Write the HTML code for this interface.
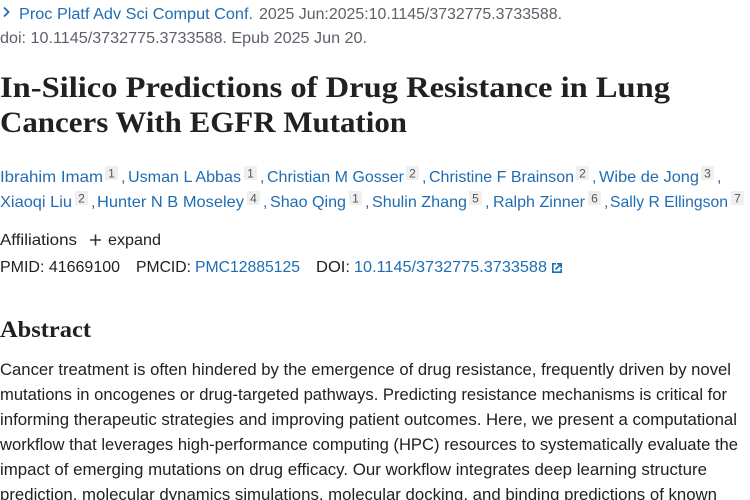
<!DOCTYPE html>
<html><head><meta charset="utf-8">
<style>
html,body{margin:0;padding:0;background:#fff;width:750px;height:500px;overflow:hidden}
svg{display:block}
.s{font-family:"Liberation Sans",sans-serif}
.t{font-family:"Liberation Serif",serif;font-weight:bold;fill:#212121}
.b{fill:#1f6db3}
.g{fill:#5b616b}
.d{fill:#212121}
.sup{font-family:"Liberation Sans",sans-serif;font-size:12px;fill:#555}
</style></head>
<body>
<svg width="750" height="500" viewBox="0 0 750 500" xmlns="http://www.w3.org/2000/svg">
<rect width="750" height="500" fill="#fff"/>
<!-- citation -->
<path d="M4 7.5 L8.5 12 L4 16.5" fill="none" stroke="#1f6db3" stroke-width="1.8"/>
<text class="s b" x="19" y="19" font-size="15.5" textLength="234" lengthAdjust="spacingAndGlyphs">Proc Platf Adv Sci Comput Conf.</text>
<text class="s g" x="259" y="19" font-size="15.5" textLength="303" lengthAdjust="spacingAndGlyphs">2025 Jun:2025:10.1145/3732775.3733588.</text>
<text class="s g" x="0" y="43" font-size="15.5" textLength="367" lengthAdjust="spacingAndGlyphs">doi: 10.1145/3732775.3733588. Epub 2025 Jun 20.</text>
<!-- title -->
<text class="t" x="0" y="97" font-size="30" textLength="670" lengthAdjust="spacingAndGlyphs">In-Silico Predictions of Drug Resistance in Lung</text>
<text class="t" x="0" y="132" font-size="30" textLength="407" lengthAdjust="spacingAndGlyphs">Cancers With EGFR Mutation</text>
<!-- authors line 1 -->
<g class="s" font-size="16">
<text class="b" x="0" y="182" textLength="103" lengthAdjust="spacingAndGlyphs">Ibrahim Imam</text>
<text class="b" x="121" y="182">,</text>
<text class="b" x="128" y="182" textLength="113" lengthAdjust="spacingAndGlyphs">Usman L Abbas</text>
<text class="b" x="260" y="182">,</text>
<text class="b" x="267" y="182" textLength="137" lengthAdjust="spacingAndGlyphs">Christian M Gosser</text>
<text class="b" x="422" y="182">,</text>
<text class="b" x="429" y="182" textLength="145" lengthAdjust="spacingAndGlyphs">Christine F Brainson</text>
<text class="b" x="592" y="182">,</text>
<text class="b" x="599" y="182" textLength="100" lengthAdjust="spacingAndGlyphs">Wibe de Jong</text>
<text class="b" x="717" y="182">,</text>
<!-- authors line 2 -->
<text class="b" x="0" y="207" textLength="72" lengthAdjust="spacingAndGlyphs">Xiaoqi Liu</text>
<text class="b" x="91" y="207">,</text>
<text class="b" x="97" y="207" textLength="147" lengthAdjust="spacingAndGlyphs">Hunter N B Moseley</text>
<text class="b" x="263" y="207">,</text>
<text class="b" x="270" y="207" textLength="76" lengthAdjust="spacingAndGlyphs">Shao Qing</text>
<text class="b" x="365" y="207">,</text>
<text class="b" x="372" y="207" textLength="95" lengthAdjust="spacingAndGlyphs">Shulin Zhang</text>
<text class="b" x="485" y="207">,</text>
<text class="b" x="493" y="207" textLength="92" lengthAdjust="spacingAndGlyphs">Ralph Zinner</text>
<text class="b" x="604" y="207">,</text>
<text class="b" x="610" y="207" textLength="118" lengthAdjust="spacingAndGlyphs">Sally R Ellingson</text>
</g>
<!-- superscript boxes -->
<g fill="#efefef">
<rect x="105" y="166" width="13" height="14" rx="1"/>
<rect x="244" y="166" width="13" height="14" rx="1"/>
<rect x="406" y="166" width="13" height="14" rx="1"/>
<rect x="576" y="166" width="13" height="14" rx="1"/>
<rect x="701" y="166" width="13" height="14" rx="1"/>
<rect x="75" y="191" width="13" height="14" rx="1"/>
<rect x="247" y="191" width="13" height="14" rx="1"/>
<rect x="349" y="191" width="13" height="14" rx="1"/>
<rect x="469" y="191" width="13" height="14" rx="1"/>
<rect x="588" y="191" width="13" height="14" rx="1"/>
<rect x="731" y="191" width="13" height="14" rx="1"/>
</g>
<g class="sup" text-anchor="middle">
<text x="111.5" y="177.5">1</text>
<text x="250.5" y="177.5">1</text>
<text x="412.5" y="177.5">2</text>
<text x="582.5" y="177.5">2</text>
<text x="707.5" y="177.5">3</text>
<text x="81.5" y="202.5">2</text>
<text x="253.5" y="202.5">4</text>
<text x="355.5" y="202.5">1</text>
<text x="475.5" y="202.5">5</text>
<text x="594.5" y="202.5">6</text>
<text x="737.5" y="202.5">7</text>
</g>
<!-- affiliations -->
<g class="s" font-size="16">
<text class="d" x="0" y="245" textLength="77" lengthAdjust="spacingAndGlyphs">Affiliations</text>
<path d="M90 240 H101 M95.5 234.5 V245.5" stroke="#333" stroke-width="1.6"/>
<text class="d" x="108" y="245" textLength="53" lengthAdjust="spacingAndGlyphs">expand</text>
<!-- ids -->
<text class="d" x="0" y="272" textLength="120" lengthAdjust="spacingAndGlyphs">PMID: 41669100</text>
<text class="d" x="136" y="272" textLength="55" lengthAdjust="spacingAndGlyphs">PMCID:</text>
<text class="b" x="195" y="272" textLength="105" lengthAdjust="spacingAndGlyphs">PMC12885125</text>
<text class="d" x="316" y="272" textLength="34" lengthAdjust="spacingAndGlyphs">DOI:</text>
<text class="b" x="354" y="272" textLength="193" lengthAdjust="spacingAndGlyphs">10.1145/3732775.3733588</text>
</g>
<g fill="none" stroke="#1f6db3" stroke-width="1.6">
<path d="M556 263.8 H552.8 V272.2 H561.2 V269"/>
<path d="M557 263.8 H561.2 V268 M561.2 263.8 L555.5 269.5"/>
</g>
<!-- abstract -->
<text class="t" x="0" y="337" font-size="23" textLength="91" lengthAdjust="spacingAndGlyphs">Abstract</text>
<g class="s d" font-size="16.5">
<text x="0" y="375" textLength="731" lengthAdjust="spacingAndGlyphs">Cancer treatment is often hindered by the emergence of drug resistance, frequently driven by novel</text>
<text x="0" y="400" textLength="727" lengthAdjust="spacingAndGlyphs">mutations in oncogenes or drug-targeted pathways. Predicting resistance mechanisms is critical for</text>
<text x="0" y="425" textLength="737" lengthAdjust="spacingAndGlyphs">informing therapeutic strategies and improving patient outcomes. Here, we present a computational</text>
<text x="0" y="450" textLength="738" lengthAdjust="spacingAndGlyphs">workflow that leverages high-performance computing (HPC) resources to systematically evaluate the</text>
<text x="0" y="475" textLength="707" lengthAdjust="spacingAndGlyphs">impact of emerging mutations on drug efficacy. Our workflow integrates deep learning structure</text>
<text x="0" y="500" textLength="717" lengthAdjust="spacingAndGlyphs">prediction, molecular dynamics simulations, molecular docking, and binding predictions of known</text>
</g>
</svg>
</body></html>
